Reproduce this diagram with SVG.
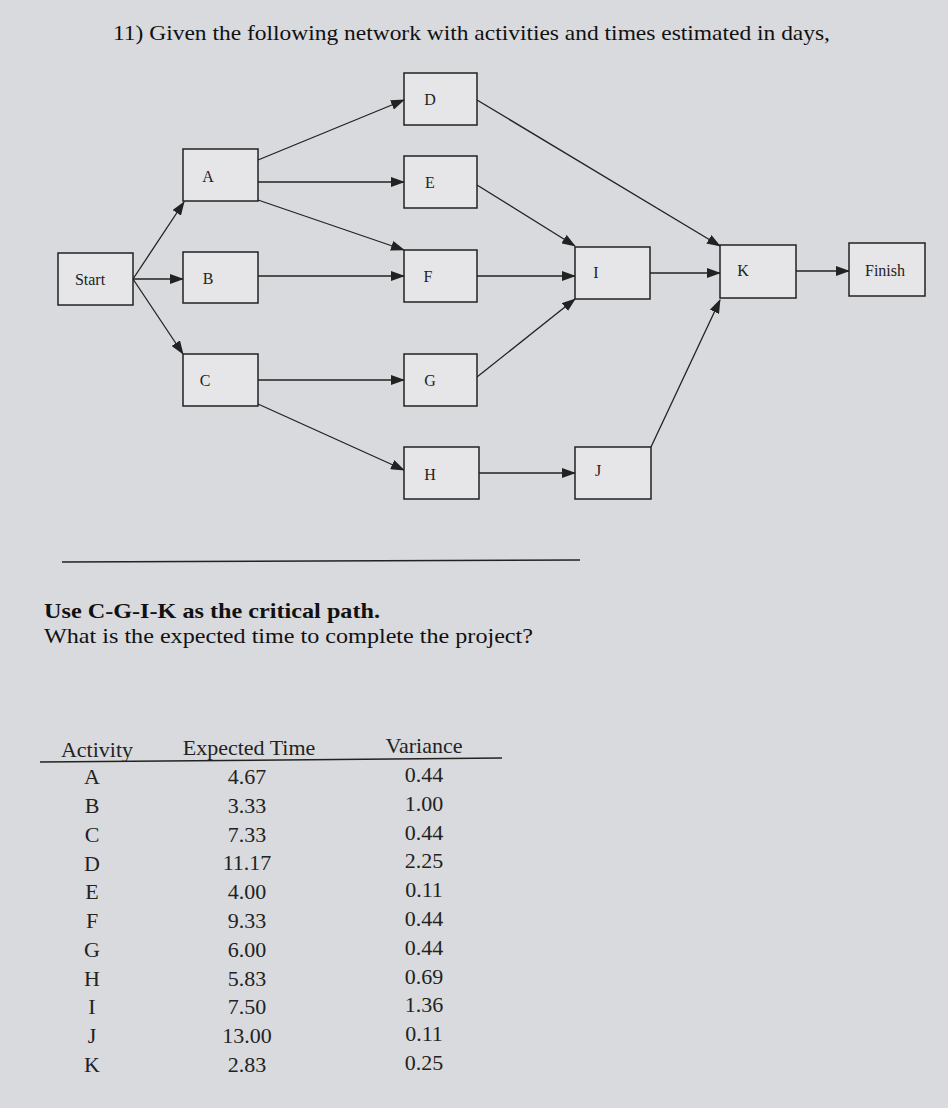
<svg xmlns="http://www.w3.org/2000/svg" width="948" height="1108" viewBox="0 0 948 1108">
<style>
.n rect{fill:#e6e6e8;stroke:#222;stroke-width:1.5}
.n text{font-family:"Liberation Serif",serif;font-size:16px;fill:#222;text-anchor:middle}
.c line{stroke:#222;stroke-width:1.3;marker-end:url(#ah)}
.t{font-family:"Liberation Serif",serif;fill:#111}
.tb text{font-family:"Liberation Serif",serif;font-size:22px;fill:#222;text-anchor:middle}
</style>
<defs><marker id="ah" markerWidth="14" markerHeight="10" refX="13" refY="5" orient="auto" markerUnits="userSpaceOnUse"><path d="M0,0L14,5L0,10z" fill="#222"/></marker></defs>
<rect width="948" height="1108" fill="#d9dadd"/>
<text class="t" x="113" y="40" font-size="21" textLength="717" lengthAdjust="spacingAndGlyphs">11) Given the following network with activities and times estimated in days,</text>
<g class="c">
<line x1="133" y1="279" x2="184" y2="202"/>
<line x1="133" y1="279" x2="183" y2="279"/>
<line x1="133" y1="279" x2="183" y2="354"/>
<line x1="258" y1="160" x2="404" y2="100"/>
<line x1="258" y1="182" x2="404" y2="182"/>
<line x1="258" y1="200" x2="404" y2="250"/>
<line x1="258" y1="276" x2="404" y2="276"/>
<line x1="258" y1="380" x2="404" y2="380"/>
<line x1="258" y1="404" x2="404" y2="470"/>
<line x1="477" y1="100" x2="720" y2="246"/>
<line x1="477" y1="185" x2="575" y2="246"/>
<line x1="477" y1="276" x2="575" y2="276"/>
<line x1="477" y1="377" x2="575" y2="299"/>
<line x1="479" y1="473" x2="575" y2="473"/>
<line x1="650" y1="273" x2="720" y2="273"/>
<line x1="651" y1="447" x2="720" y2="300"/>
<line x1="796" y1="271" x2="849" y2="271"/>
</g>
<g id="Start" class="n"><rect x="58" y="253" width="75" height="52"/><text x="90" y="285">Start</text></g>
<g id="A" class="n"><rect x="183" y="149" width="75" height="52"/><text x="208" y="182">A</text></g>
<g id="B" class="n"><rect x="183" y="252" width="75" height="51"/><text x="208" y="284">B</text></g>
<g id="C" class="n"><rect x="183" y="354" width="75" height="52"/><text x="205" y="386">C</text></g>
<g id="D" class="n"><rect x="404" y="73" width="73" height="52"/><text x="430" y="105">D</text></g>
<g id="E" class="n"><rect x="404" y="156" width="73" height="52"/><text x="430" y="188">E</text></g>
<g id="F" class="n"><rect x="404" y="250" width="73" height="52"/><text x="428" y="282">F</text></g>
<g id="G" class="n"><rect x="404" y="354" width="73" height="52"/><text x="430" y="386">G</text></g>
<g id="H" class="n"><rect x="404" y="447" width="75" height="52"/><text x="430" y="480">H</text></g>
<g id="I" class="n"><rect x="575" y="247" width="75" height="52"/><text x="596" y="278">I</text></g>
<g id="J" class="n"><rect x="575" y="447" width="76" height="52"/><text x="598" y="476">J</text></g>
<g id="K" class="n"><rect x="720" y="245" width="76" height="53"/><text x="743" y="276">K</text></g>
<g id="Finish" class="n"><rect x="849" y="243" width="76" height="53"/><text x="885" y="276">Finish</text></g>
<line x1="62" y1="562" x2="580" y2="560" stroke="#222" stroke-width="1.5"/>
<text class="t" x="44" y="618" font-size="22" font-weight="bold" textLength="336" lengthAdjust="spacingAndGlyphs">Use C-G-I-K as the critical path.</text>
<text class="t" x="44" y="643" font-size="22" textLength="489" lengthAdjust="spacingAndGlyphs">What is the expected time to complete the project?</text>
<line x1="40" y1="762" x2="502" y2="758" stroke="#222" stroke-width="1.5"/>
<g class="tb">
<text x="97" y="757">Activity</text><text x="249" y="755">Expected Time</text><text x="424" y="753">Variance</text>
<text x="92" y="784">A</text><text x="247" y="784">4.67</text><text x="424" y="782">0.44</text>
<text x="92" y="813">B</text><text x="247" y="813">3.33</text><text x="424" y="811">1.00</text>
<text x="92" y="842">C</text><text x="247" y="842">7.33</text><text x="424" y="840">0.44</text>
<text x="92" y="871">D</text><text x="247" y="870">11.17</text><text x="424" y="868">2.25</text>
<text x="92" y="899">E</text><text x="247" y="899">4.00</text><text x="424" y="897">0.11</text>
<text x="92" y="928">F</text><text x="247" y="928">9.33</text><text x="424" y="926">0.44</text>
<text x="92" y="957">G</text><text x="247" y="957">6.00</text><text x="424" y="955">0.44</text>
<text x="92" y="986">H</text><text x="247" y="986">5.83</text><text x="424" y="984">0.69</text>
<text x="92" y="1014">I</text><text x="247" y="1014">7.50</text><text x="424" y="1012">1.36</text>
<text x="92" y="1043">J</text><text x="247" y="1043">13.00</text><text x="424" y="1041">0.11</text>
<text x="92" y="1072">K</text><text x="247" y="1072">2.83</text><text x="424" y="1070">0.25</text>
</g>
</svg>
